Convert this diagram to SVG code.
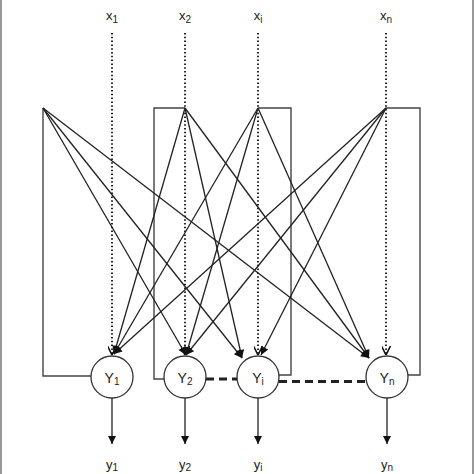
<svg xmlns="http://www.w3.org/2000/svg" width="474" height="474" viewBox="0 0 474 474">
<style>
.lbl{font-family:"Liberation Sans","DejaVu Sans",sans-serif;fill:#222;text-anchor:middle}
.in{font-size:13px}
.nl{font-size:14px}
.sub{font-size:10px}
.neuron{fill:#fff;stroke:#333;stroke-width:1.3}
.w{fill:none;stroke:#222;stroke-width:1.3}
.dot{fill:none;stroke:#111;stroke-width:1.8;stroke-dasharray:1.5 2.3}
.fb{fill:none;stroke:#444;stroke-width:1.4}
.dash{fill:none;stroke:#222;stroke-width:3;stroke-dasharray:8 5}
.out{fill:none;stroke:#222;stroke-width:1.3}
</style>
<defs>
<marker id="ah" viewBox="0 0 10 10" refX="10" refY="5" markerWidth="10" markerHeight="8" markerUnits="userSpaceOnUse" orient="auto">
<path d="M0,0 L10,5 L0,10 z" fill="#111"/>
</marker>
<marker id="av" viewBox="0 0 10 10" refX="10" refY="5" markerWidth="9" markerHeight="9" markerUnits="userSpaceOnUse" orient="auto">
<path d="M0,0 L10,5 L0,10" fill="none" stroke="#111" stroke-width="1.8"/>
</marker>
</defs>
<rect x="0" y="0" width="2" height="474" fill="#999"/>
<rect x="472" y="0" width="2" height="474" fill="#999"/>

<g id="inputs">
<text class="lbl in" x="112" y="20">x<tspan class="sub" dy="3">1</tspan></text>
<text class="lbl in" x="185" y="20">x<tspan class="sub" dy="3">2</tspan></text>
<text class="lbl in" x="258" y="20">x<tspan class="sub" dy="3">i</tspan></text>
<text class="lbl in" x="386" y="20">x<tspan class="sub" dy="3">n</tspan></text>
</g>

<g id="connectors">
<line class="dot" x1="112" y1="33" x2="112" y2="355" marker-end="url(#av)"/>
<line class="dot" x1="185" y1="33" x2="185" y2="355" marker-end="url(#av)"/>
<line class="dot" x1="258" y1="33" x2="258" y2="355" marker-end="url(#av)"/>
<line class="dot" x1="386" y1="33" x2="386" y2="355" marker-end="url(#av)"/>
<polyline class="fb" points="91,376 43,376 43,108"/>
<polyline class="fb" points="164,379 154,379 154,108 185,108"/>
<polyline class="fb" points="279,375 291,375 291,108 258,108"/>
<polyline class="fb" points="408,375 420,375 420,108 386,108"/>
<line class="w" x1="43" y1="108" x2="186" y2="355" marker-end="url(#ah)"/>
<line class="w" x1="43" y1="108" x2="242" y2="358" marker-end="url(#ah)"/>
<line class="w" x1="43" y1="108" x2="369" y2="358" marker-end="url(#ah)"/>
<line class="w" x1="185" y1="108" x2="114" y2="354" marker-end="url(#ah)"/>
<line class="w" x1="185" y1="108" x2="242" y2="358" marker-end="url(#ah)"/>
<line class="w" x1="185" y1="108" x2="369" y2="358" marker-end="url(#ah)"/>
<line class="w" x1="258" y1="108" x2="114" y2="354" marker-end="url(#ah)"/>
<line class="w" x1="258" y1="108" x2="186" y2="355" marker-end="url(#ah)"/>
<line class="w" x1="258" y1="108" x2="369" y2="358" marker-end="url(#ah)"/>
<line class="w" x1="386" y1="108" x2="114" y2="354" marker-end="url(#ah)"/>
<line class="w" x1="386" y1="108" x2="186" y2="355" marker-end="url(#ah)"/>
<line class="w" x1="386" y1="108" x2="261" y2="355" marker-end="url(#ah)"/>
<line class="dash" x1="206" y1="379" x2="237" y2="379"/>
<line class="dash" x1="279" y1="381.5" x2="366" y2="381.5"/>
<line class="out" x1="112" y1="398" x2="112" y2="444" marker-end="url(#ah)"/>
<line class="out" x1="185" y1="398" x2="185" y2="444" marker-end="url(#ah)"/>
<line class="out" x1="258" y1="398" x2="258" y2="444" marker-end="url(#ah)"/>
<line class="out" x1="387" y1="398" x2="387" y2="444" marker-end="url(#ah)"/>
</g>

<g id="Y1">
<circle class="neuron" cx="112" cy="377" r="21"/>
<text class="lbl nl" x="112" y="383">Y<tspan class="sub" dy="2">1</tspan></text>
</g>
<g id="Y2">
<circle class="neuron" cx="185" cy="377" r="21"/>
<text class="lbl nl" x="185" y="383">Y<tspan class="sub" dy="2">2</tspan></text>
</g>
<g id="Yi">
<circle class="neuron" cx="258" cy="377" r="21"/>
<text class="lbl nl" x="258" y="383">Y<tspan class="sub" dy="2">i</tspan></text>
</g>
<g id="Yn">
<circle class="neuron" cx="387" cy="377" r="21"/>
<text class="lbl nl" x="387" y="383">Y<tspan class="sub" dy="2">n</tspan></text>
</g>

<g id="outputs">
<text class="lbl in" x="112" y="469">y<tspan class="sub" dy="2">1</tspan></text>
<text class="lbl in" x="185" y="469">y<tspan class="sub" dy="2">2</tspan></text>
<text class="lbl in" x="258" y="469">y<tspan class="sub" dy="2">i</tspan></text>
<text class="lbl in" x="387" y="469">y<tspan class="sub" dy="2">n</tspan></text>
</g>
</svg>
